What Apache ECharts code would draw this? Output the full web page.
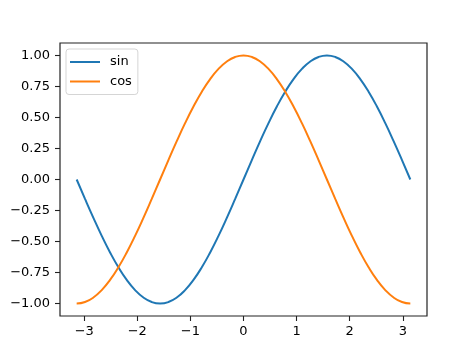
<!DOCTYPE html>
<html>
<head>
<meta charset="utf-8">
<script src="https://cdn.jsdelivr.net/npm/echarts@6/dist/echarts.min.js"></script>
<style>html,body{margin:0;padding:0;background:#fff}#c{width:474px;height:355px}</style>
</head>
<body>
<div id="c"></div>
<script>
const xs = [-3.142,-2.985,-2.827,-2.670,-2.513,-2.356,-2.199,-2.042,-1.885,-1.728,-1.571,-1.414,-1.257,-1.100,-0.942,-0.785,-0.628,-0.471,-0.314,-0.157,0,0.157,0.314,0.471,0.628,0.785,0.942,1.100,1.257,1.414,1.571,1.728,1.885,2.042,2.199,2.356,2.513,2.670,2.827,2.985,3.142];
const sinVals = [0,-0.1564,-0.3090,-0.4540,-0.5878,-0.7071,-0.8090,-0.8910,-0.9511,-0.9877,-1,-0.9877,-0.9511,-0.8910,-0.8090,-0.7071,-0.5878,-0.4540,-0.3090,-0.1564,0,0.1564,0.3090,0.4540,0.5878,0.7071,0.8090,0.8910,0.9511,0.9877,1,0.9877,0.9511,0.8910,0.8090,0.7071,0.5878,0.4540,0.3090,0.1564,0];
const cosVals = [-1,-0.9877,-0.9511,-0.8910,-0.8090,-0.7071,-0.5878,-0.4540,-0.3090,-0.1564,0,0.1564,0.3090,0.4540,0.5878,0.7071,0.8090,0.8910,0.9511,0.9877,1,0.9877,0.9511,0.8910,0.8090,0.7071,0.5878,0.4540,0.3090,0.1564,0,-0.1564,-0.3090,-0.4540,-0.5878,-0.7071,-0.8090,-0.8910,-0.9511,-0.9877,-1];
const xTicks = [-3,-2,-1,0,1,2,3];
const yTicks = [-1,-0.75,-0.5,-0.25,0,0.25,0.5,0.75,1];
const seriesNames = ['sin','cos'];

const minus = s => s.replace('-', '\u2212');
const chart = echarts.init(document.getElementById('c'), null, {renderer:'canvas'});
const font = 'DejaVu Sans';
chart.setOption({
  animation:false,
  backgroundColor:'#fff',
  grid:{left:60,right:47,top:43,bottom:39,show:true,borderColor:'#222',borderWidth:1.2,backgroundColor:'transparent',containLabel:false},
  legend:{
    left:66, top:49, orient:'vertical',
    data:seriesNames.map(n=>({name:n})),
    icon:'rect', itemWidth:30, itemHeight:2, itemGap:6.5,
    padding:[6.5,6,6.5,4],
    backgroundColor:'rgba(255,255,255,0.8)', borderColor:'#d5d5d5', borderWidth:1, borderRadius:3,
    textStyle:{fontFamily:font,fontSize:13,color:'#000',padding:[0,0,0,5]}
  },
  xAxis:{
    type:'value', min:-3.456, max:3.456,
    axisLine:{show:false,onZero:false},
    splitLine:{show:false},
    axisTick:{show:true,length:5,lineStyle:{color:'#222',width:1.1},customValues:xTicks},
    axisLabel:{fontFamily:font,fontSize:13,color:'#000',margin:9,customValues:xTicks,formatter:v=>minus(String(v))}
  },
  yAxis:{
    type:'value', min:-1.1, max:1.1,
    axisLine:{show:false,onZero:false},
    splitLine:{show:false},
    axisTick:{show:true,length:5,lineStyle:{color:'#222',width:1.1},customValues:yTicks},
    axisLabel:{fontFamily:font,fontSize:13,color:'#000',margin:10,customValues:yTicks,formatter:v=>minus(v.toFixed(2))}
  },
  series:[
    {name:seriesNames[0],type:'line',showSymbol:false,symbol:'none',smooth:true,data:xs.map((x,i)=>[x,sinVals[i]]),lineStyle:{color:'#1f77b4',width:2},itemStyle:{color:'#1f77b4'}},
    {name:seriesNames[1],type:'line',showSymbol:false,symbol:'none',smooth:true,data:xs.map((x,i)=>[x,cosVals[i]]),lineStyle:{color:'#ff7f0e',width:2},itemStyle:{color:'#ff7f0e'}}
  ]
});
</script>
</body>
</html>
